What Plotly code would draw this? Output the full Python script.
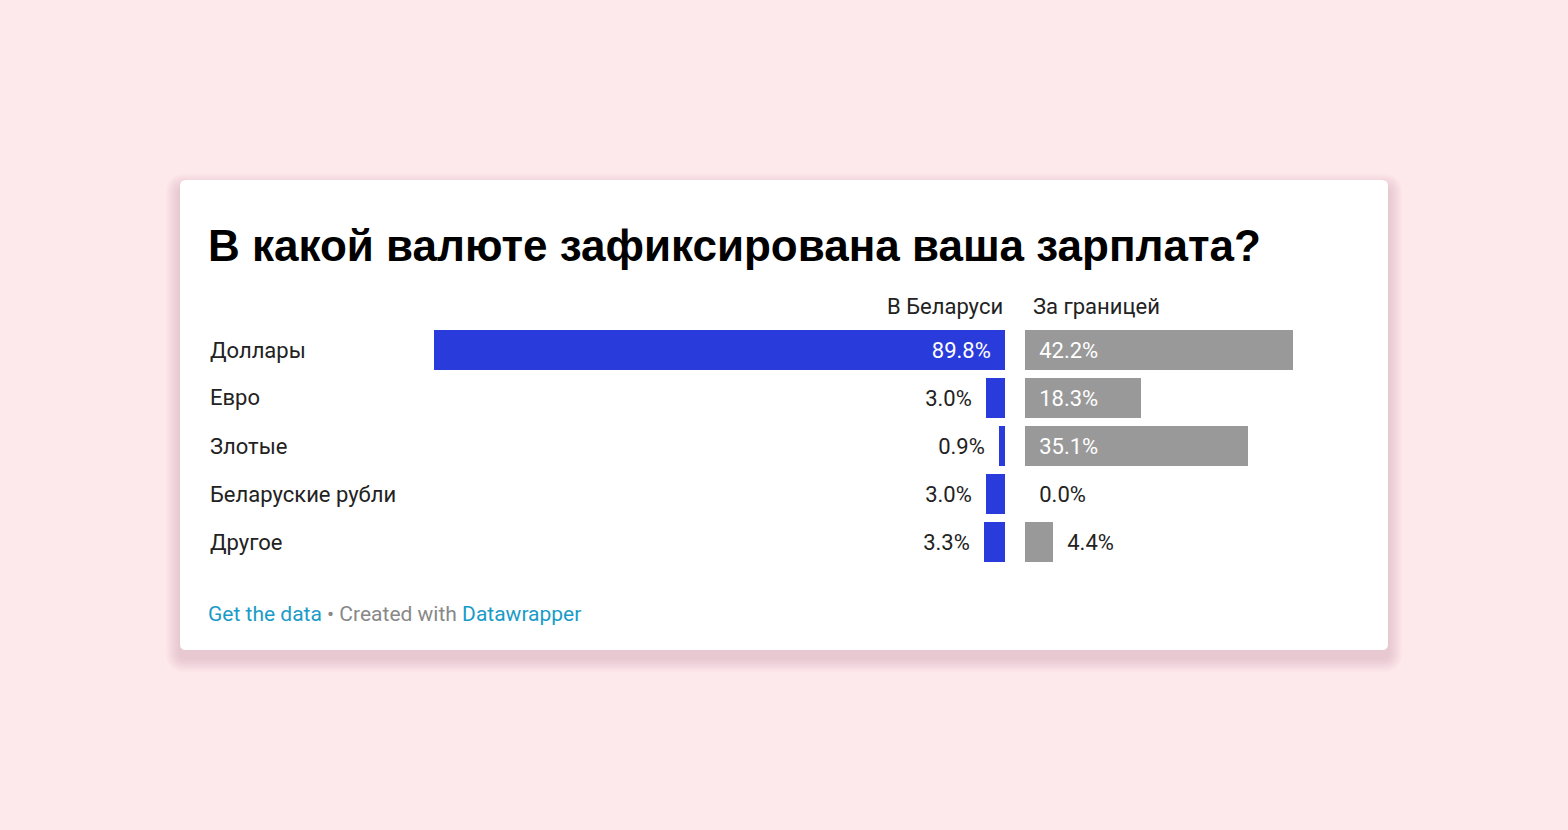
import plotly.graph_objects as go

categories = ["Доллары", "Евро", "Злотые", "Беларуские рубли", "Другое"]
belarus = [89.8, 3.0, 0.9, 3.0, 3.3]
abroad = [42.2, 18.3, 35.1, 0.0, 4.4]
col_titles = ["В Беларуси", "За границей"]
title = "В какой валюте зафиксирована ваша зарплата?"

W, H = 1568, 830
def px(x): return x / W
def py(y): return 1 - y / H

BLUE = "#2a3bdb"
GREY = "#999999"
FONT = "Roboto"
SP = "\u2002"

fig = go.Figure()

def pos(vals, thr):
    return ["inside" if v >= thr else "outside" for v in vals]

fig.add_trace(go.Bar(
    y=categories, x=belarus, orientation="h", xaxis="x", yaxis="y",
    marker=dict(color=BLUE, line=dict(width=0)),
    text=[f"{v:.1f}%{SP}" for v in belarus], textposition=pos(belarus, 10),
    insidetextanchor="start", constraintext="none",
    insidetextfont=dict(color="white", size=22, family=FONT),
    outsidetextfont=dict(color="#222", size=22, family=FONT),
    cliponaxis=False, hoverinfo="skip", width=0.833))
fig.add_trace(go.Bar(
    y=categories, x=abroad, orientation="h", xaxis="x2", yaxis="y",
    marker=dict(color=GREY, line=dict(width=0)),
    text=[f"{SP}{v:.1f}%" for v in abroad], textposition=pos(abroad, 10),
    insidetextanchor="start", constraintext="none",
    insidetextfont=dict(color="white", size=22, family=FONT),
    outsidetextfont=dict(color="#222", size=22, family=FONT),
    cliponaxis=False, hoverinfo="skip", width=0.833))

scale = 571 / 89.8
fig.update_layout(
    width=W, height=H, margin=dict(l=0, r=0, t=0, b=0),
    paper_bgcolor="#fde9ec", plot_bgcolor="rgba(0,0,0,0)",
    showlegend=False, bargap=0,
    xaxis=dict(domain=[px(434), px(1005)], range=[89.8, 0], visible=False, fixedrange=True),
    xaxis2=dict(domain=[px(1025), px(1388)], range=[0, 363 / scale], visible=False, fixedrange=True),
    yaxis=dict(domain=[py(566), py(326)], range=[4.5, -0.5], visible=False,
               type="category", categoryarray=categories),
)

def rrect(x0, y0, x1, y1, r):
    return (f"M {px(x0+r)} {py(y0)} L {px(x1-r)} {py(y0)} Q {px(x1)} {py(y0)} {px(x1)} {py(y0+r)} "
            f"L {px(x1)} {py(y1-r)} Q {px(x1)} {py(y1)} {px(x1-r)} {py(y1)} "
            f"L {px(x0+r)} {py(y1)} Q {px(x0)} {py(y1)} {px(x0)} {py(y1-r)} "
            f"L {px(x0)} {py(y0+r)} Q {px(x0)} {py(y0)} {px(x0+r)} {py(y0)} Z")
shapes = []
for i in range(14, 0, -2):
    shapes.append(dict(type="path", xref="paper", yref="paper", layer="below",
                       path=rrect(180 - i, 180 - i + 8, 1388 + i, 650 + i + 8, 6 + i),
                       fillcolor="rgba(120,60,80,0.022)", line=dict(width=0)))
shapes.append(dict(type="path", xref="paper", yref="paper", layer="below",
                   path=rrect(180, 180, 1388, 650, 6), fillcolor="white", line=dict(width=0)))
fig.update_layout(shapes=shapes)

ann = [
    dict(x=px(206), y=py(245), text=f"<b>{title}</b>", xanchor="left", yanchor="middle",
         font=dict(family="Liberation Sans", size=44, color="#000")),
    dict(x=px(1005), y=py(306), text=col_titles[0], xanchor="right", yanchor="middle",
         font=dict(family=FONT, size=22, color="#222")),
    dict(x=px(1031), y=py(306), text=col_titles[1], xanchor="left", yanchor="middle",
         font=dict(family=FONT, size=22, color="#222")),
    dict(x=px(206), y=py(614),
         text="<span style='color:#1a9bc7'>Get the data</span> • Created with <span style='color:#1a9bc7'>Datawrapper</span>",
         xanchor="left", yanchor="middle", font=dict(family=FONT, size=21, color="#888")),
]
for i, c in enumerate(categories):
    ann.append(dict(x=px(208), y=py(350 + 48 * i), text=c, xanchor="left", yanchor="middle",
                    font=dict(family=FONT, size=22, color="#222")))
for a in ann:
    a.update(xref="paper", yref="paper", showarrow=False)
fig.update_layout(annotations=ann)

fig.write_html("out.html", config={"displayModeBar": False},
               post_script="document.body.style.margin='0';document.body.style.background='#fde9ec';document.body.style.overflow='hidden';")
